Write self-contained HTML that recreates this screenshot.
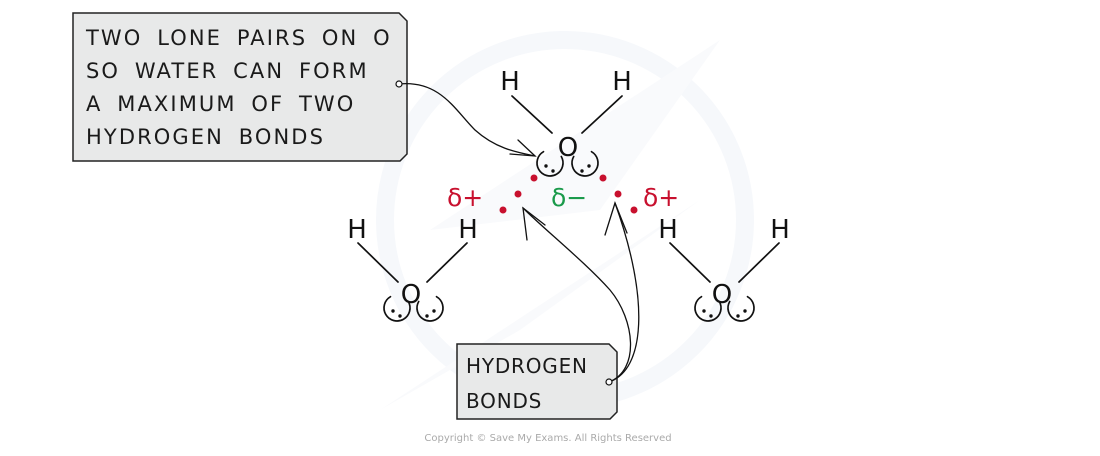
<!DOCTYPE html>
<html><head><style>
html,body{margin:0;padding:0;background:#fff;}
svg{display:block;}
text{font-family:"DejaVu Sans","Liberation Sans",sans-serif;}
</style></head><body>
<svg width="1100" height="456" viewBox="0 0 1100 456" xmlns="http://www.w3.org/2000/svg">
<!-- watermark -->
<g fill="none" stroke="#f6f8fb" stroke-width="18">
<circle cx="565" cy="220" r="180"/>
</g>
<polygon points="430,230 720,40 600,210" fill="#f9fafc"/>
<polygon points="380,410 700,200 520,330" fill="#f9fafc"/>

<!-- top box -->
<polygon points="73,13 399,13 407,21 407,154 400,161 73,161" fill="#e8e9e9" stroke="#222" stroke-width="1.5"/>
<g font-size="21" fill="#1a1a1a" letter-spacing="2.1" word-spacing="6">
<text x="86" y="45">TWO LONE PAIRS ON O</text>
<text x="86" y="78">SO WATER CAN FORM</text>
<text x="86" y="111">A MAXIMUM OF TWO</text>
<text x="86" y="144">HYDROGEN BONDS</text>
</g>

<!-- bottom box -->
<polygon points="457,344 609,344 617,352 617,412 610,419 457,419" fill="#e8e9e9" stroke="#222" stroke-width="1.5"/>
<g font-size="20" fill="#1a1a1a" letter-spacing="0.8">
<text x="466" y="373">HYDROGEN</text>
<text x="466" y="408">BONDS</text>
</g>

<g stroke="#111" stroke-width="1.7" fill="none" stroke-linecap="round">
<line x1="512" y1="96" x2="552" y2="133"/>
<line x1="622" y1="96" x2="582" y2="133"/>
<path d="M543.5,151.7 A13,13 0 1 0 561.3,156.5"/>
<path d="M591.5,151.7 A13,13 0 1 1 573.7,156.5"/>
<line x1="358" y1="243" x2="398" y2="282"/>
<line x1="467" y1="243" x2="427" y2="282"/>
<path d="M390.5,296.7 A13,13 0 1 0 408.3,301.5"/>
<path d="M436.5,296.7 A13,13 0 1 1 418.7,301.5"/>
<line x1="670" y1="243" x2="710" y2="282"/>
<line x1="779" y1="243" x2="739" y2="282"/>
<path d="M701.5,296.7 A13,13 0 1 0 719.3,301.5"/>
<path d="M747.5,296.7 A13,13 0 1 1 729.7,301.5"/>

<path d="M399,84 C440,80 455,110 475,130 C495,148 515,152 535,156" stroke-width="1.3"/>
<path d="M518,140 L535,156 L510,154" stroke-width="1.3"/>
<path d="M609,382 C640,370 635,320 610,290 C585,262 545,230 523,208" stroke-width="1.3"/>
<path d="M527,240 L523,208 L545,225" stroke-width="1.3"/>
<path d="M609,382 C645,370 650,300 615,203" stroke-width="1.3"/>
<path d="M605,235 L615,203 L627,233" stroke-width="1.3"/>
</g>
<circle cx="399" cy="84" r="3" fill="#fff" stroke="#111" stroke-width="1.2"/>
<circle cx="609" cy="382" r="3" fill="#fff" stroke="#111" stroke-width="1.2"/>

<g fill="#111">
<circle cx="546" cy="166" r="1.7"/><circle cx="553" cy="171" r="1.7"/>
<circle cx="582" cy="171" r="1.7"/><circle cx="589" cy="166" r="1.7"/>
<circle cx="393" cy="311" r="1.7"/><circle cx="400" cy="316" r="1.7"/>
<circle cx="427" cy="316" r="1.7"/><circle cx="434" cy="311" r="1.7"/>
<circle cx="704" cy="311" r="1.7"/><circle cx="711" cy="316" r="1.7"/>
<circle cx="738" cy="316" r="1.7"/><circle cx="745" cy="311" r="1.7"/>
</g>

<g font-size="26" fill="#111" text-anchor="middle">
<text x="510" y="90">H</text><text x="622" y="90">H</text>
<text x="568" y="156">O</text>
<text x="357" y="238">H</text><text x="468" y="238">H</text>
<text x="411" y="303">O</text>
<text x="668" y="238">H</text><text x="780" y="238">H</text>
<text x="722" y="303">O</text>
</g>

<g fill="#c8102e">
<circle cx="534" cy="178" r="3.5"/><circle cx="518" cy="194" r="3.5"/><circle cx="503" cy="210" r="3.5"/>
<circle cx="603" cy="178" r="3.5"/><circle cx="618" cy="194" r="3.5"/><circle cx="634" cy="210" r="3.5"/>
</g>
<g font-size="25">
<text x="447" y="206" fill="#c8102e">δ+</text>
<text x="551" y="206" fill="#1a9a4a">δ−</text>
<text x="643" y="206" fill="#c8102e">δ+</text>
</g>

<text x="548" y="441" font-size="10" fill="#aaa" text-anchor="middle" font-family="Liberation Sans, sans-serif">Copyright © Save My Exams. All Rights Reserved</text>
</svg>
</body></html>
